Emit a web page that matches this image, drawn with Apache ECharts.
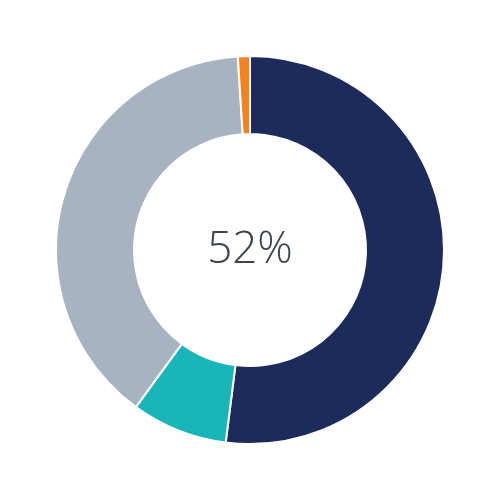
<!DOCTYPE html>
<html><head><meta charset="utf-8">
<script src="https://cdn.jsdelivr.net/npm/echarts@6/dist/echarts.min.js"></script>
<style>html,body{margin:0;background:#fff}#c{width:500px;height:500px}</style>
</head><body><div id="c"></div>
<script>
const categories = ['A', 'B', 'C', 'D'];
const values = [52, 8, 39, 1];
const colors = ['#1c2b5a', '#1ab5b8', '#a8b3c2', '#f58220'];
const centerLabel = '52%';
const chart = echarts.init(document.getElementById('c'));
chart.setOption({
  animation: false,
  graphic: [{type: 'text', left: 'center', top: 'middle',
    style: {text: centerLabel, font: '300 44px "Open Sans", Lato, sans-serif', fill: '#3d4450'}}],
  series: [{
    type: 'pie', center: ['50%', '50%'], radius: [116, 194], startAngle: 90,
    clockwise: true, label: {show: false}, labelLine: {show: false},
    itemStyle: {borderColor: '#fff', borderWidth: 2},
    emphasis: {disabled: true},
    data: categories.map((c, i) => ({name: c, value: values[i], itemStyle: {color: colors[i]}}))
  }]
});
</script></body></html>
